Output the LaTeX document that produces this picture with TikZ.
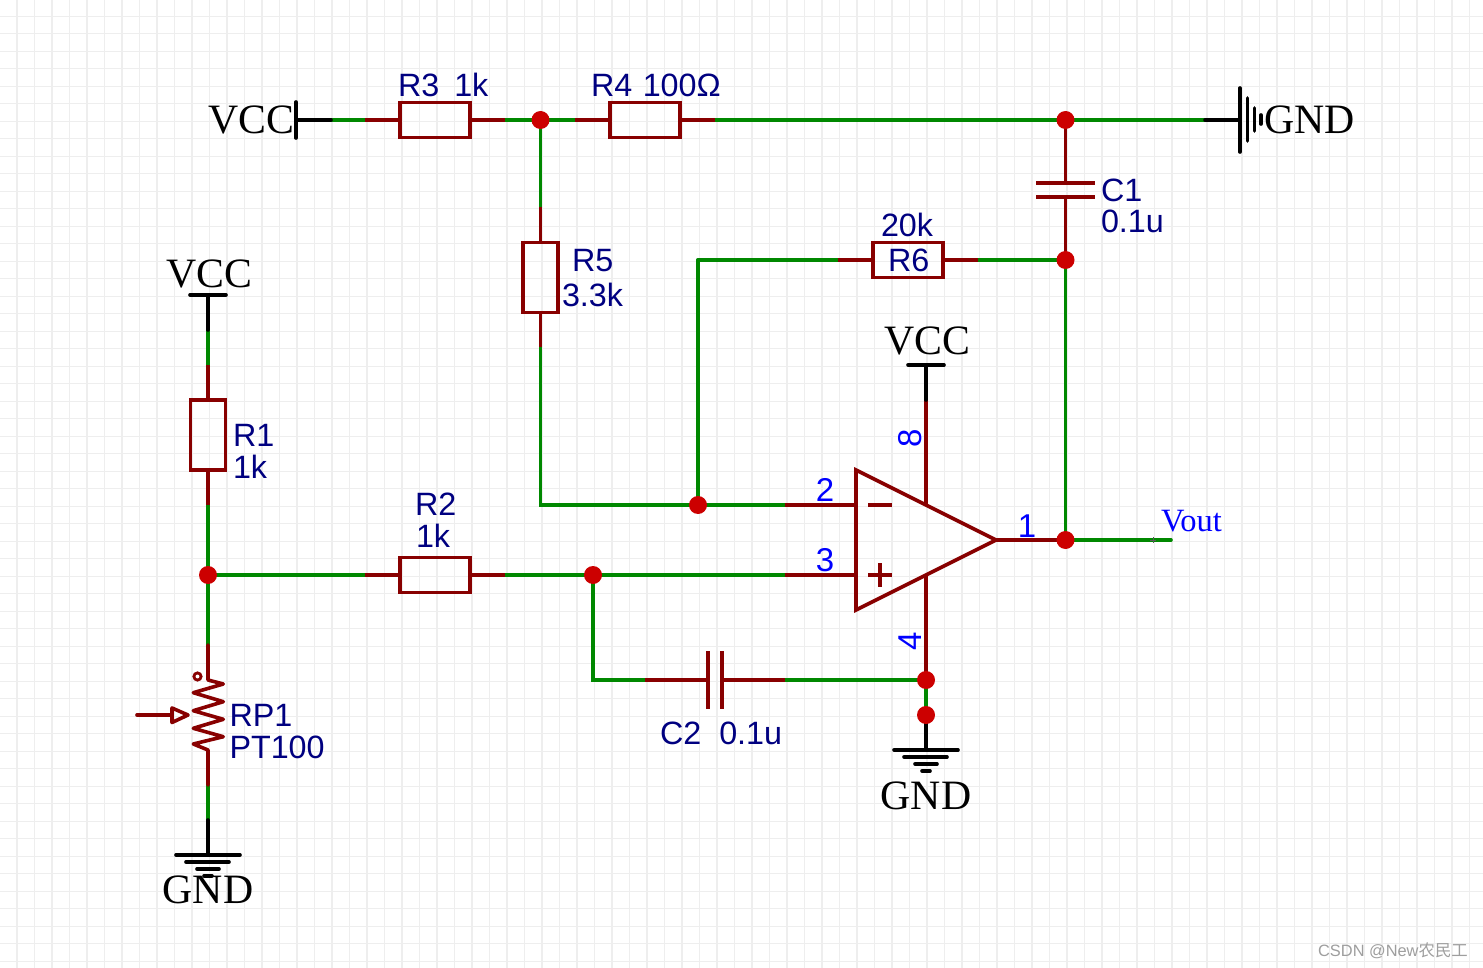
\documentclass[tikz,border=0pt]{standalone}
\usepackage{fontspec}
\setmainfont{Liberation Serif}
\setsansfont{Liberation Sans}
\newfontfamily\cjkwm{Noto Sans CJK SC}
\definecolor{wiregreen}{HTML}{008800}
\definecolor{pinred}{HTML}{880000}
\definecolor{dotred}{HTML}{CC0000}
\definecolor{labelblue}{HTML}{000080}
\definecolor{pinblue}{HTML}{0000FF}
\definecolor{gridgray}{HTML}{EEEEEE}
\tikzset{
  x=1pt,y=-1pt,
  wire/.style={draw=wiregreen,line width=3.6pt,line cap=round,line join=miter},
  pin/.style={draw=pinred,line width=3.6pt,line cap=butt,line join=miter},
  pw/.style={draw=black,line width=3.6pt,line cap=round},
  body/.style={draw=pinred,line width=3.6pt,rectangle,inner sep=0pt,outer sep=0pt},
  hres/.style={body,minimum width=70pt,minimum height=35pt},
  vres/.style={body,minimum width=35pt,minimum height=70pt},
  junction/.style={circle,fill=dotred,draw=none,minimum size=18pt,inner sep=0pt,outer sep=0pt},
  lab/.style={anchor=base west,inner sep=0pt,outer sep=0pt,text=labelblue,font=\sffamily\fontsize{32.3}{32.3}\selectfont},
  pinnum/.style={anchor=center,inner sep=0pt,outer sep=0pt,text=pinblue,font=\sffamily\fontsize{33}{33}\selectfont},
  pwr/.style={anchor=base,inner sep=0pt,outer sep=0pt,text=black,font=\rmfamily\fontsize{41.8}{41.8}\selectfont},
  net/.style={anchor=base west,inner sep=0pt,outer sep=0pt,text=pinblue,font=\rmfamily\fontsize{32.5}{32.5}\selectfont},
}
\begin{document}
\begin{tikzpicture}
\useasboundingbox (0,0) rectangle (1483,968);
\fill[white] (0,0) rectangle (1483,968);
% grid
\foreach \k in {1,...,84} {\draw[gridgray,line width=1.3pt] ({17.5*\k-0.5},0) -- ({17.5*\k-0.5},968);}
\foreach \k in {1,...,55} {\draw[gridgray,line width=1.3pt] (0,{17.5*\k-1.3}) -- (1483,{17.5*\k-1.3});}

% wire coordinates
\coordinate (vccTopPin) at (331,120);
\coordinate (vccTopBar) at (296,120);
\coordinate (r3L) at (365,120);
\coordinate (r3R) at (505,120);
\coordinate (r4L) at (575,120);
\coordinate (r4R) at (715,120);
\coordinate (gndTopPin) at (1205,120);
\coordinate (gndTopBar) at (1240,120);
\coordinate (r5T) at (540.5,207);
\coordinate (r5B) at (540.5,347);
\coordinate (n505) at (540.5,505);
\coordinate (r6L) at (838,260);
\coordinate (r6R) at (978,260);
\coordinate (c1T) at (1065.5,120);
\coordinate (c1B) at (1065.5,260);
\coordinate (fbCorner) at (698,260);
\coordinate (pin2) at (785,505);
\coordinate (pin3) at (785,575);
\coordinate (opIn2) at (856,505);
\coordinate (opIn3) at (856,575);
\coordinate (opOut) at (996,540);
\coordinate (opTL) at (856,470);
\coordinate (opBL) at (856,610);
\coordinate (vout) at (1171,540);
\coordinate (vcc1Pin) at (208,330);
\coordinate (vcc1Bar) at (208,295);
\coordinate (r1T) at (208,365);
\coordinate (r1B) at (208,505);
\coordinate (rpT) at (208,645);
\coordinate (rpB) at (208,785);
\coordinate (gnd1Pin) at (208,820);
\coordinate (gnd1Bar) at (208,855);
\coordinate (r2L) at (365,575);
\coordinate (r2R) at (505,575);
\coordinate (c2Corner) at (593,680);
\coordinate (c2L) at (645,680);
\coordinate (c2R) at (785,680);
\coordinate (vcc3Bar) at (926,365);
\coordinate (vcc3Pin) at (926,400);
\coordinate (op8) at (926,505);
\coordinate (op4) at (926,575);
\coordinate (gnd3Bar) at (926,750);

% junctions (drawn later, named now)
\coordinate (jA) at (540.5,120);
\coordinate (jB) at (1065.5,120);
\coordinate (jC) at (1065.5,260);
\coordinate (jD) at (698,505);
\coordinate (jE) at (1065.5,540);
\coordinate (jF) at (208,575);
\coordinate (jG) at (593,575);
\coordinate (jH) at (926,680);
\coordinate (jI) at (926,715);

% green wires
\draw[wire] (vccTopPin) -- (r3L);
\draw[wire] (r3R) -- (r4L);
\draw[wire] (r4R) -- (gndTopPin);
\draw[wire] (jA) -- (r5T);
\draw[wire] (r5B) -- (n505) -- (pin2);
\draw[wire] (fbCorner) -- (jD);
\draw[wire] (fbCorner) -- (r6L);
\draw[wire] (r6R) -- (jC);
\draw[wire] (jC) -- (jE);
\draw[wire] (jE) -- (vout);
\draw[wire] (vcc1Pin) -- (r1T);
\draw[wire] (r1B) -- (rpT);
\draw[wire] (jF) -- (r2L);
\draw[wire] (r2R) -- (pin3);
\draw[wire] (jG) -- (c2Corner) -- (c2L);
\draw[wire] (c2R) -- (jH);
\draw[wire] (jH) -- (jI);
\draw[wire] (rpB) -- (gnd1Pin);

% resistors
\node[hres] (R3) at (435,120) {};
\node[hres] (R4) at (645,120) {};
\node[vres] (R5) at (540.5,277.5) {};
\node[hres] (R6) at (908,260) {};
\node[vres] (R1) at (208,435) {};
\node[hres] (R2) at (435,575) {};
\draw[pin] (r3L) -- (R3.west) (R3.east) -- (r3R);
\draw[pin] (r4L) -- (R4.west) (R4.east) -- (r4R);
\draw[pin] (r5T) -- (R5.north) (R5.south) -- (r5B);
\draw[pin] (r6L) -- (R6.west) (R6.east) -- (r6R);
\draw[pin] (r1T) -- (R1.north) (R1.south) -- (r1B);
\draw[pin] (r2L) -- (R2.west) (R2.east) -- (r2R);

% C1
\coordinate (c1P1) at (1065.5,183);
\coordinate (c1P2) at (1065.5,197);
\draw[pin] (c1T) -- (c1P1) (c1P2) -- (c1B);
\draw[pin] (1036,183) -- (1095,183) (1036,197) -- (1095,197);
% C2
\coordinate (c2P1) at (708,680);
\coordinate (c2P2) at (722,680);
\draw[pin] (c2L) -- (c2P1) (c2P2) -- (c2R);
\draw[pin] (708,651) -- (708,709) (722,651) -- (722,709);

% op amp
\draw[pin,line join=miter,miter limit=3] (opTL) -- (opOut) -- (opBL) -- cycle;
\draw[pin] (pin2) -- (opIn2) (pin3) -- (opIn3) (opOut) -- (jE);
\draw[pin] (vcc3Pin) -- (op8) (op4) -- (jH);
\draw[pin] (868,505) -- (892,505) (868,575) -- (892,575) (880,563) -- (880,587);

% RP1
\draw[pin,line join=round,line cap=round] (rpT) -- (208,680) -- (223.3,684) -- (193.3,692.7) -- (223.3,701.7) -- (193.3,710.7) -- (223.3,719.3) -- (193.3,728.3) -- (223.3,736.7) -- (193.3,744) -- (208,750) -- (rpB);
\draw[pinred,line width=2.8pt] (197.5,676.5) circle (3.6);
\draw[pin,line cap=round] (137,715) -- (172,715);
\draw[pin,line join=round] (172,708) -- (188,715) -- (172,722.5) -- cycle;

% power symbols
\draw[pw] (vccTopPin) -- (vccTopBar);
\draw[pw] (296,102) -- (296,138);
\draw[pw] (vcc1Pin) -- (vcc1Bar);
\draw[pw] (190,295) -- (226,295);
\draw[pw] (vcc3Bar) -- (vcc3Pin);
\draw[pw] (908,365) -- (944,365);
\draw[pw] (gndTopPin) -- (gndTopBar);
\draw[pw] (1240,88) -- (1240,152) (1247.5,98) -- (1247.5,141) (1254.5,108) -- (1254.5,131) (1261,115) -- (1261,124);
\draw[pw] (gnd1Pin) -- (gnd1Bar);
\draw[pw] (176,855) -- (240,855) (186,862) -- (229,862) (197,869) -- (219,869) (204,876) -- (212,876);
\draw[pw] (jI) -- (gnd3Bar);
\draw[pw] (894,750) -- (958,750) (904,757) -- (947,757) (915,764) -- (937,764) (922,771) -- (930,771);

% small probe cross
\draw[gray!70!black,line width=1pt] (1150,540) -- (1156,540) (1153,537) -- (1153,543);

% junction dots
\foreach \j in {jA,jB,jC,jD,jE,jF,jG,jH,jI} {\node[junction] (dot\j) at (\j) {};}

% labels
\node[lab] (tR3) at (398,97) {R3\hspace{15pt}1k};
\node[lab] (tR4) at (591,97) {R4\hspace{10.5pt}100Ω};
\node[lab] (tR5) at (572,272) {R5};
\node[lab] (tR5v) at (562,307) {3.3k};
\node[lab] (tR6) at (888,272) {R6};
\node[lab] (tR6v) at (881,237) {20k};
\node[lab] (tC1) at (1101,202) {C1};
\node[lab] (tC1v) at (1101,233) {0.1u};
\node[lab] (tR1) at (233,446.5) {R1};
\node[lab] (tR1v) at (233,478) {1k};
\node[lab] (tR2) at (415,515) {R2};
\node[lab] (tR2v) at (416,547) {1k};
\node[lab] (tC2) at (660,744) {C2\hspace{18pt}0.1u};
\node[lab] (tRP) at (229.5,726.5) {RP1};
\node[lab] (tRPv) at (229.5,758) {PT100};
\node[pinnum] (p2) at (825,490) {2};
\node[pinnum] (p3) at (825,560) {3};
\node[pinnum] (p1) at (1027,526) {1};
\node[pinnum,rotate=90] (p8) at (910,438) {8};
\node[pinnum,rotate=90] (p4) at (910,641) {4};
\node[pwr,anchor=base west] (vccA) at (208,133.5) {VCC};
\node[pwr] (vccB) at (209.5,287.5) {VCC};
\node[pwr] (vccC) at (927,354.5) {VCC};
\node[pwr,anchor=base west] (gndA) at (1264.5,133.5) {GND};
\node[pwr] (gndB) at (208,903) {GND};
\node[pwr] (gndC) at (926,809.5) {GND};
\node[net] (tVout) at (1161,531) {Vout};
\node[anchor=base east,inner sep=0pt,text=black!38,font=\sffamily\fontsize{16.4}{16.4}\selectfont] (wm) at (1468,956) {CSDN @New{\cjkwm 农民工}};
\end{tikzpicture}
\end{document}
